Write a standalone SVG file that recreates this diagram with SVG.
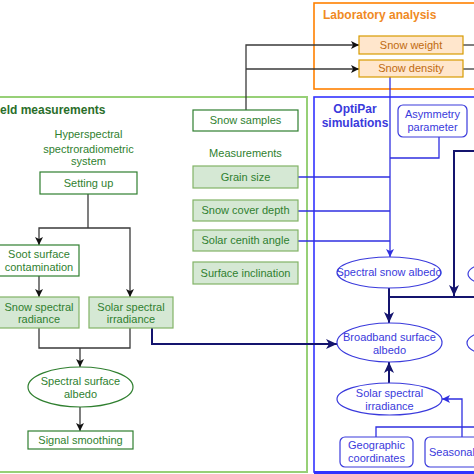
<svg xmlns="http://www.w3.org/2000/svg" width="474" height="474" viewBox="0 0 474 474">
<defs>
<marker id="ak" markerUnits="userSpaceOnUse" markerWidth="9" markerHeight="8" refX="8" refY="4" orient="auto"><path d="M0,0 L8,4 L0,8 L2,4 Z" fill="#111"/></marker>
<marker id="abl" markerUnits="userSpaceOnUse" markerWidth="9" markerHeight="8" refX="8" refY="4" orient="auto"><path d="M0,0 L8,4 L0,8 L2,4 Z" fill="#2f2fe0"/></marker>
<marker id="an" markerUnits="userSpaceOnUse" markerWidth="12" markerHeight="10" refX="11" refY="5" orient="auto"><path d="M0,0 L11,5 L0,10 L3,5 Z" fill="#14146e"/></marker>
</defs>
<style>
text{font-family:"Liberation Sans",Arial,sans-serif;font-size:11px;text-anchor:middle}
.gt{fill:#2f7f2f}
.bt{fill:#3a3adc}
.ot{fill:#c06a10}
.gw{fill:#fff;stroke:#2f7f2f;stroke-width:1.2}
.gf{fill:#d5e8d4;stroke:#82b366;stroke-width:1.2}
.bw{fill:#fff;stroke:#3a3adc;stroke-width:1.2}
.of{fill:#ffe6cc;stroke:#d79b00;stroke-width:1.2}
.title{font-size:12px;font-weight:bold;text-anchor:start}
.ck{fill:none;stroke:#3a3a3a;stroke-width:1.3}
.cb{fill:none;stroke:#2f2fe0;stroke-width:1.3}
.cn{fill:none;stroke:#14146e;stroke-width:2}
</style>

<g id="field-measurements">
<rect x="-5" y="97" width="312" height="375" fill="#fff" stroke="#97d077" stroke-width="2"/>
<text class="title gt" x="0" y="114" style="fill:#2a6e2a">eld measurements</text>
</g>
<g id="laboratory-analysis">
<rect x="314" y="3" width="170" height="86" fill="#fff" stroke="#ff8000" stroke-width="1.6"/>
<text class="title" x="323" y="19" style="fill:#f08a24">Laboratory analysis</text>
</g>
<g id="optipar-simulations">
<rect x="314" y="97" width="170" height="375" fill="#fff" stroke="#3333ff" stroke-width="1.6"/>
<line x1="314" y1="472.5" x2="474" y2="472.5" stroke="#3333ff" stroke-width="3"/>
<text class="title" x="355" y="112.5" style="fill:#3a3adc;text-anchor:middle">OptiPar</text>
<text class="title" x="355" y="126.5" style="fill:#3a3adc;text-anchor:middle">simulations</text>
</g>

<g id="connectors">
<path class="ck" d="M88,194 V228"/>
<path class="ck" d="M88,228 H39 V245" marker-end="url(#ak)"/>
<path class="ck" d="M88,228 H130 V297" marker-end="url(#ak)"/>
<path class="ck" d="M39,276 V297" marker-end="url(#ak)"/>
<path class="ck" d="M39,328 V348 H130 V328"/>
<path class="ck" d="M80,348 V367" marker-end="url(#ak)"/>
<path class="ck" d="M80,407 V431" marker-end="url(#ak)"/>
<path class="ck" d="M246,110 V45 H359" marker-end="url(#ak)"/>
<path class="ck" d="M246,69 H359" marker-end="url(#ak)"/>
<path class="ck" d="M463,45 H474"/>
<path class="ck" d="M463,69 H474"/>
<path class="cb" d="M390,77 V257" marker-end="url(#abl)"/>
<path class="cb" d="M298,177 H390"/>
<path class="cb" d="M298,211 H390"/>
<path class="cb" d="M298,241 H390"/>
<path class="cb" d="M439,137 V158 H390"/>
<path class="cb" d="M376,437 V427 H474"/>
<path class="cb" d="M462,437 V399 H442" marker-end="url(#abl)"/>
<path class="cn" d="M474,151 H454 V296" marker-end="url(#an)"/>
<path class="cn" d="M389,297 H474"/>
<path class="cn" d="M389,288 V323" marker-end="url(#an)"/>
<path class="cn" d="M389,383 V362" marker-end="url(#an)"/>
<path class="cn" d="M152,328 V344 H337" marker-end="url(#an)"/>
</g>

<g id="hyperspectral-label">
<text class="gt" x="88.5" y="138">Hyperspectral</text>
<text class="gt" x="88.5" y="153">spectroradiometric</text>
<text class="gt" x="88.5" y="165">system</text>
</g>
<g id="setting-up"><rect class="gw" x="40" y="172" width="97" height="22"/><text class="gt" x="88.5" y="187">Setting up</text></g>
<g id="soot-surface"><rect class="gw" x="-2" y="245" width="81" height="31"/><text class="gt" x="39" y="258">Soot surface</text><text class="gt" x="39" y="271">contamination</text></g>
<g id="snow-spectral-radiance"><rect class="gf" x="-1" y="297" width="80" height="31"/><text class="gt" x="39" y="311">Snow spectral</text><text class="gt" x="39" y="323">radiance</text></g>
<g id="solar-spectral-irradiance-field"><rect class="gf" x="89" y="297" width="84" height="31"/><text class="gt" x="131" y="311">Solar spectral</text><text class="gt" x="131" y="323">irradiance</text></g>
<g id="spectral-surface-albedo"><ellipse class="gw" cx="80.5" cy="387" rx="52.5" ry="20"/><text class="gt" x="80.5" y="385">Spectral surface</text><text class="gt" x="80.5" y="398">albedo</text></g>
<g id="signal-smoothing"><rect class="gw" x="28" y="431" width="105" height="18"/><text class="gt" x="80.5" y="444">Signal smoothing</text></g>

<g id="snow-samples"><rect class="gw" x="193" y="110" width="105" height="21"/><text class="gt" x="245.5" y="124">Snow samples</text></g>
<g id="measurements-label"><text class="gt" x="245.5" y="157">Measurements</text></g>
<g id="grain-size"><rect class="gf" x="193" y="166" width="105" height="22"/><text class="gt" x="245.5" y="181">Grain size</text></g>
<g id="snow-cover-depth"><rect class="gf" x="193" y="200" width="105" height="21"/><text class="gt" x="245.5" y="214">Snow cover depth</text></g>
<g id="solar-cenith-angle"><rect class="gf" x="193" y="230" width="105" height="21"/><text class="gt" x="245.5" y="244">Solar cenith angle</text></g>
<g id="surface-inclination"><rect class="gf" x="193" y="262" width="105" height="22"/><text class="gt" x="245.5" y="277">Surface inclination</text></g>

<g id="snow-weight"><rect class="of" x="359" y="36" width="104" height="18"/><text class="ot" x="411" y="49">Snow weight</text></g>
<g id="snow-density"><rect class="of" x="359" y="60" width="104" height="17"/><text class="ot" x="411" y="72">Snow density</text></g>

<g id="asymmetry-parameter"><rect class="bw" x="398" y="105" width="69" height="32" rx="5"/><text class="bt" x="432.5" y="118">Asymmetry</text><text class="bt" x="432.5" y="131">parameter</text></g>
<g id="spectral-snow-albedo"><ellipse class="bw" cx="389" cy="272.5" rx="52" ry="15.5"/><text class="bt" x="389" y="276">Spectral snow albedo</text></g>
<g id="right-ellipse-1"><ellipse class="bw" cx="520" cy="274" rx="52" ry="15"/></g>
<g id="broadband-surface-albedo"><ellipse class="bw" cx="389.5" cy="342.5" rx="52.5" ry="19.5"/><text class="bt" x="389.5" y="341">Broadband surface</text><text class="bt" x="389.5" y="354">albedo</text></g>
<g id="right-ellipse-2"><ellipse class="bw" cx="519" cy="343" rx="52" ry="16"/></g>
<g id="solar-spectral-irradiance-sim"><ellipse class="bw" cx="389.5" cy="399" rx="52.5" ry="16"/><text class="bt" x="389.5" y="397">Solar spectral</text><text class="bt" x="389.5" y="410">irradiance</text></g>
<g id="geographic-coordinates"><rect class="bw" x="340" y="437" width="73" height="30" rx="5"/><text class="bt" x="376.5" y="449">Geographic</text><text class="bt" x="376.5" y="462">coordinates</text></g>
<g id="seasonal"><rect class="bw" x="425" y="437" width="70" height="30" rx="5"/><text class="bt" x="429" y="456" style="text-anchor:start">Seasonal</text></g>
</svg>
